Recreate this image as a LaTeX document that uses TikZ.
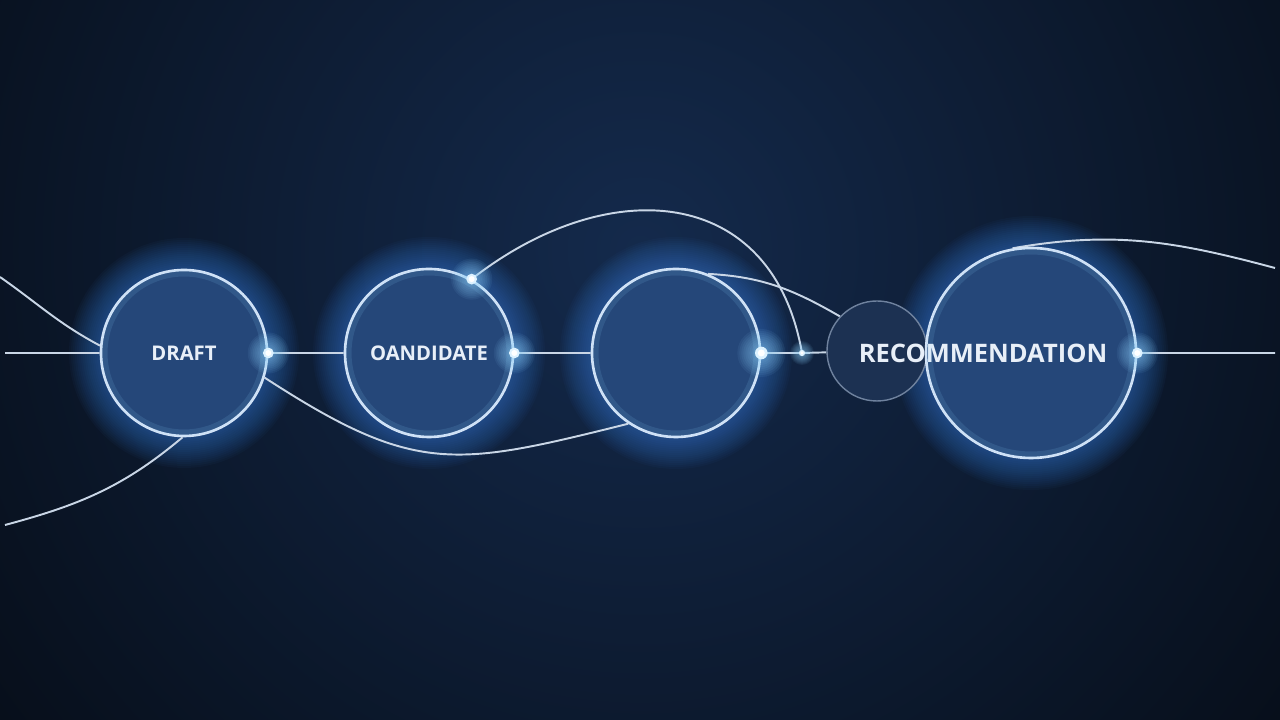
\documentclass[tikz,border=0pt]{standalone}
\usepackage{fontspec}
\setmainfont{Open Sans}
\definecolor{bgmid}{HTML}{142A4C}
\definecolor{bgedge}{HTML}{03060B}
\definecolor{discfill}{HTML}{254779}
\definecolor{rimcol}{HTML}{D6E4F6}
\definecolor{glowblue}{HTML}{3F83E0}
\definecolor{sparkcol}{HTML}{8FD3FF}
\definecolor{smallfill}{HTML}{1C3152}
\definecolor{smallrim}{HTML}{6F829E}
\definecolor{wirecol}{HTML}{C9D6E6}
\definecolor{txtcol}{HTML}{E8EFF8}
\pgfdeclarelayer{bg}\pgfdeclarelayer{glow}\pgfdeclarelayer{wires}
\pgfsetlayers{bg,glow,wires,main}
\tikzset{stage/.style={circle,draw=rimcol,line width=1.5pt,fill=discfill,inner sep=0pt,
    text=txtcol,font=\fontsize{11.5}{14}\selectfont\bfseries},
  wire/.style={wirecol,line width=1.1pt}}
% glowing point: #1 where, #2 size
\newcommand\spark[2]{\foreach \k in {1,...,12} \fill[sparkcol,opacity=.07] (#1) circle ({#2*\k/3.5});
  \fill[white!70!sparkcol] (#1) circle ({#2*.9}); \fill[white] (#1) circle ({#2*.5});}

\begin{document}
\begin{tikzpicture}[x=.2mm,y=.2mm]
  \useasboundingbox (0,0) rectangle (1280,720);
  \begin{pgfonlayer}{bg}
    \clip (0,0) rectangle (1280,720);
    \shade[inner color=bgmid,outer color=bgedge] (640,470) circle (1050);
  \end{pgfonlayer}

  \node[stage,minimum size=33.2mm] (draft) at (184,367) {DRAFT};
  \node[stage,minimum size=33.6mm] (cand) at (429,367) {OANDIDATE};
  \node[stage,minimum size=33.6mm] (third) at (676,367) {};
  \node[circle,draw=smallrim,line width=.8pt,fill=smallfill,minimum size=20mm] (small) at (877,369) {};
  \node[stage,minimum size=42mm,label={[text=txtcol,font=\fontsize{14.5}{18}\selectfont\bfseries,
      xshift=-9.6mm]center:RECOMMENDATION}] (rec) at (1031,367) {};
  \foreach \n/\r in {draft/83,cand/84,third/84,rec/105}
    \draw[sparkcol,opacity=.12,line width=4pt] (\n) circle ({\r-3});

  \coordinate (lin) at (5,367); \coordinate (lout) at (1275,367);
  \coordinate (star) at (802,367);
  \coordinate (tl) at (0,443); \coordinate (bl) at (5,195); \coordinate (tr) at (1275,452);
  \begin{pgfonlayer}{wires}
    \draw[wire] (lin) -- (draft) -- (cand) -- (third) -- (star) -- (small) (rec) -- (lout);
    \draw[wire] (tl) to[out=-35,in=152] (draft.175);
    \draw[wire] (bl) to[out=15,in=-140] (draft.-91);
    \draw[wire] (draft.-17) to[out=-33,in=-166,looseness=1.25] (third.-124);
    \draw[wire] (cand.60) to[out=38,in=100,looseness=1.3] (star);
    \draw[wire] (third.68) to[out=-3,in=150] (small.137);
    \draw[wire] (rec.100) to[out=10,in=165] (tr);
  \end{pgfonlayer}
  \begin{pgfonlayer}{glow}
    \foreach \n/\r in {draft/83,cand/84,third/84,rec/105}
      \foreach \k in {1,...,16} \fill[glowblue,opacity=.04] (\n) circle ({\r+2*\k});
  \end{pgfonlayer}

  \spark{draft.east}{6} \spark{cand.east}{6} \spark{third.east}{7}
  \spark{cand.60}{6} \spark{rec.east}{6} \spark{star}{3.5}
\end{tikzpicture}
\end{document}
